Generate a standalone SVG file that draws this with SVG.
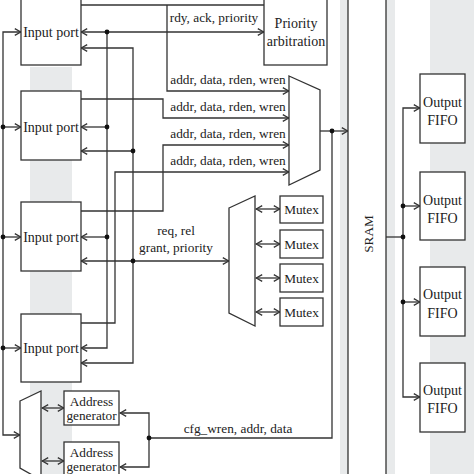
<svg xmlns="http://www.w3.org/2000/svg" width="474" height="474" viewBox="0 0 474 474">
<style>
.bg{fill:#e8eaeb}
.ln{fill:none;stroke:#333;stroke-width:1.3}
.box{fill:#fff;stroke:#333;stroke-width:1.3}
.t{font-family:"Liberation Serif","Times New Roman",serif;font-size:14px;fill:#222;text-anchor:middle}
.s{font-size:13.3px}
.dot{fill:#111}
</style>
<defs>
<marker id="a" viewBox="0 0 8 8" markerWidth="8" markerHeight="8" refX="7.2" refY="4" orient="auto-start-reverse" markerUnits="userSpaceOnUse">
<path d="M1,0.6 L7,4 L1,7.4" fill="none" stroke="#333" stroke-width="1.3"/>
</marker>
</defs>
<rect width="474" height="474" fill="#fff"/>
<g id="background">
<rect class="bg" x="30" y="67" width="42" height="407"/>
<rect class="bg" x="340" y="0" width="55" height="474"/>
<rect class="bg" x="430" y="0" width="44" height="474"/>
</g>
<g id="connectors">
<path class="ln" d="M81,5 H264"/>
<path class="ln" d="M167,5 V91 H289" marker-end="url(#a)"/>
<path class="ln" d="M81,99 H163 V118 H289" marker-end="url(#a)"/>
<path class="ln" d="M81,211 H163 V145 H289" marker-end="url(#a)"/>
<path class="ln" d="M81,323 H115 V172 H289" marker-end="url(#a)"/>
<path class="ln" d="M81,32 H264" marker-start="url(#a)" marker-end="url(#a)"/>
<path class="ln" d="M107,32 V348 H81" marker-end="url(#a)"/>
<path class="ln" d="M107,127 H81" marker-end="url(#a)"/>
<path class="ln" d="M107,237 H81" marker-end="url(#a)"/>
<path class="ln" d="M81,48 H133 V363 H81" marker-start="url(#a)" marker-end="url(#a)"/>
<path class="ln" d="M133,151 H81" marker-end="url(#a)"/>
<path class="ln" d="M81,261 H229" marker-start="url(#a)" marker-end="url(#a)"/>
<path class="ln" d="M21,32 H3 V435 H20" marker-start="url(#a)" marker-end="url(#a)"/>
<path class="ln" d="M3,127 H21" marker-end="url(#a)"/>
<path class="ln" d="M3,237 H21" marker-end="url(#a)"/>
<path class="ln" d="M3,348 H21" marker-end="url(#a)"/>
<path class="ln" d="M320,131 H348" marker-end="url(#a)"/>
<path class="ln" d="M332,131 V438 H149"/>
<path class="ln" d="M120,413 H149 V467 H120" marker-start="url(#a)" marker-end="url(#a)"/>
<path class="ln" d="M386,237 H403"/>
<path class="ln" d="M420,108 H403 V397 H420" marker-start="url(#a)" marker-end="url(#a)"/>
<path class="ln" d="M403,206 H420" marker-end="url(#a)"/>
<path class="ln" d="M403,302 H420" marker-end="url(#a)"/>
<path class="ln" d="M256,209 H280" marker-start="url(#a)" marker-end="url(#a)"/>
<path class="ln" d="M256,244 H280" marker-start="url(#a)" marker-end="url(#a)"/>
<path class="ln" d="M256,278 H280" marker-start="url(#a)" marker-end="url(#a)"/>
<path class="ln" d="M256,312 H280" marker-start="url(#a)" marker-end="url(#a)"/>
<path class="ln" d="M42,408 H64" marker-start="url(#a)" marker-end="url(#a)"/>
<path class="ln" d="M42,461 H64" marker-start="url(#a)" marker-end="url(#a)"/>
<circle class="dot" cx="107" cy="32" r="2.4"/>
<circle class="dot" cx="107" cy="127" r="2.4"/>
<circle class="dot" cx="107" cy="237" r="2.4"/>
<circle class="dot" cx="133" cy="151" r="2.4"/>
<circle class="dot" cx="133" cy="261" r="2.4"/>
<circle class="dot" cx="3" cy="127" r="2.4"/>
<circle class="dot" cx="3" cy="237" r="2.4"/>
<circle class="dot" cx="3" cy="348" r="2.4"/>
<circle class="dot" cx="332" cy="131" r="2.4"/>
<circle class="dot" cx="149" cy="438" r="2.4"/>
<circle class="dot" cx="403" cy="237" r="2.4"/>
<circle class="dot" cx="403" cy="206" r="2.4"/>
<circle class="dot" cx="403" cy="302" r="2.4"/>
<text class="t s" x="214" y="22">rdy, ack, priority</text>
<text class="t s" x="228" y="84">addr, data, rden, wren</text>
<text class="t s" x="228" y="111">addr, data, rden, wren</text>
<text class="t s" x="228" y="138">addr, data, rden, wren</text>
<text class="t s" x="228" y="165">addr, data, rden, wren</text>
<text class="t s" x="176" y="235">req, rel</text>
<text class="t s" x="176" y="252">grant, priority</text>
<text class="t s" x="238" y="433">cfg_wren, addr, data</text>
</g>
<g id="input-port-1"><rect class="box" x="21" y="-4" width="60" height="69"/><text class="t" x="51" y="37">Input port</text></g>
<g id="input-port-2"><rect class="box" x="21" y="91" width="60" height="69"/><text class="t" x="51" y="132">Input port</text></g>
<g id="input-port-3"><rect class="box" x="21" y="202" width="60" height="69"/><text class="t" x="51" y="242">Input port</text></g>
<g id="input-port-4"><rect class="box" x="21" y="314" width="60" height="68"/><text class="t" x="51" y="353">Input port</text></g>
<g id="priority-arbitration"><rect class="box" x="264" y="-2" width="63" height="67"/><text class="t" x="296" y="28">Priority</text><text class="t" x="296" y="46">arbitration</text></g>
<g id="data-mux"><polygon class="box" points="289,76 320,90 320,170 289,185"/></g>
<g id="mutex-mux"><polygon class="box" points="229,208 255,196 255,326 229,313"/></g>
<g id="mutex-1"><rect class="box" x="280" y="196" width="43" height="27"/><text class="t s" x="301.5" y="214">Mutex</text></g>
<g id="mutex-2"><rect class="box" x="280" y="230" width="43" height="28"/><text class="t s" x="301.5" y="249">Mutex</text></g>
<g id="mutex-3"><rect class="box" x="280" y="264" width="43" height="28"/><text class="t s" x="301.5" y="283">Mutex</text></g>
<g id="mutex-4"><rect class="box" x="280" y="298" width="43" height="28"/><text class="t s" x="301.5" y="317">Mutex</text></g>
<g id="sram"><rect class="box" x="348" y="-2" width="38" height="478"/><text class="t s" transform="translate(373,234) rotate(-90)">SRAM</text></g>
<g id="output-fifo-1"><rect class="box" x="420" y="74" width="45" height="69"/><text class="t" x="442.5" y="107">Output</text><text class="t" x="442.5" y="125">FIFO</text></g>
<g id="output-fifo-2"><rect class="box" x="420" y="172" width="45" height="68"/><text class="t" x="442.5" y="205">Output</text><text class="t" x="442.5" y="223">FIFO</text></g>
<g id="output-fifo-3"><rect class="box" x="420" y="267" width="45" height="69"/><text class="t" x="442.5" y="299">Output</text><text class="t" x="442.5" y="318">FIFO</text></g>
<g id="output-fifo-4"><rect class="box" x="420" y="363" width="45" height="69"/><text class="t" x="442.5" y="395">Output</text><text class="t" x="442.5" y="413">FIFO</text></g>
<g id="address-mux"><polygon class="box" points="20,401 41,391 41,480 20,468"/></g>
<g id="address-generator-1"><rect class="box" x="64" y="391" width="55" height="34"/><text class="t s" x="91.5" y="406">Address</text><text class="t s" x="91.5" y="420">generator</text></g>
<g id="address-generator-2"><rect class="box" x="64" y="442" width="55" height="34"/><text class="t s" x="91.5" y="457">Address</text><text class="t s" x="91.5" y="471">generator</text></g>
</svg>
